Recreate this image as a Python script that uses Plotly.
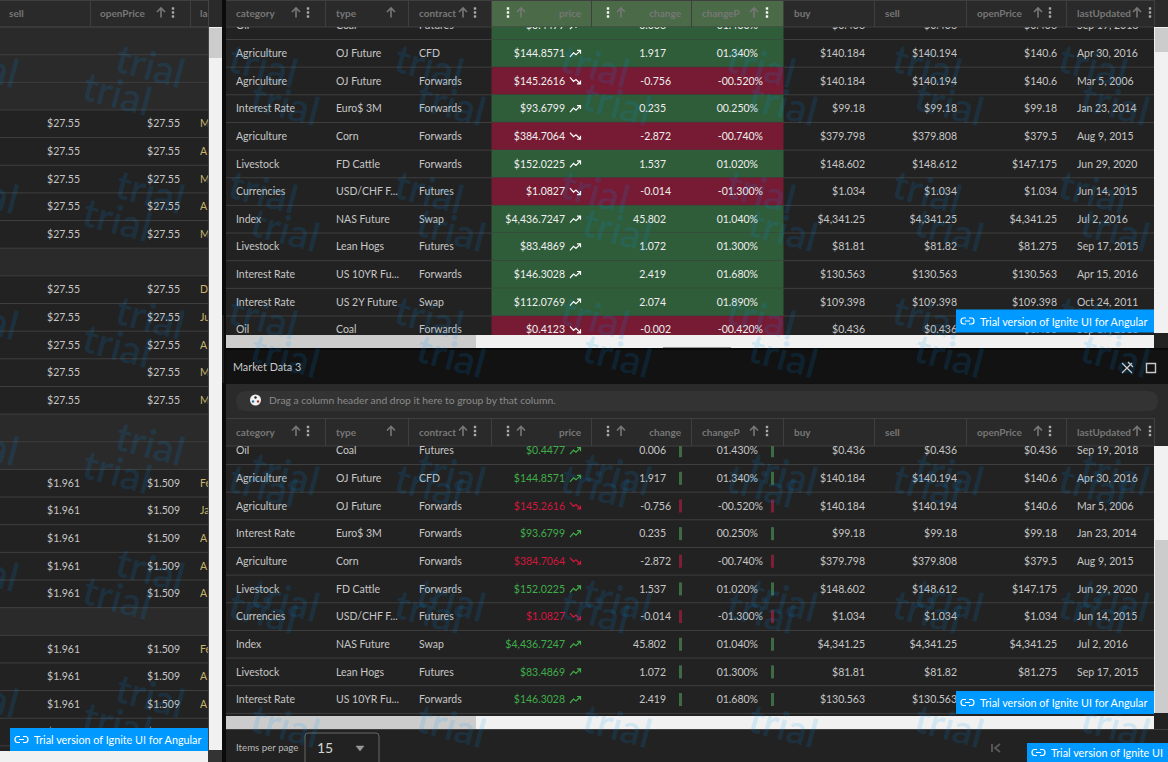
import plotly.graph_objects as go

# left grid, visible part only ("" = group row)
left_sell = ["", "", ""] + ["$27.55"] * 5 + [""] + ["$27.55"] * 5 + ["", ""] + ["$1.961"] * 5 + [""] + ["$1.961"] * 4
left_open = ["", "", ""] + ["$27.55"] * 5 + [""] + ["$27.55"] * 5 + ["", ""] + ["$1.509"] * 5 + [""] + ["$1.509"] * 4
left_last = ["", "", "", "M", "A", "M", "A", "M", "", "D", "Ju", "A", "M", "M", "", "",
             "Fe", "Ja", "A", "A", "A", "", "Fe", "A", "A", "A"]

category = ["Oil", "Agriculture", "Agriculture", "Interest Rate", "Agriculture", "Livestock",
            "Currencies", "Index", "Livestock", "Interest Rate", "Interest Rate", "Oil"]
itype = ["Coal", "OJ Future", "OJ Future", "Euro$ 3M", "Corn", "FD Cattle",
         "USD/CHF F...", "NAS Future", "Lean Hogs", "US 10YR Fu...", "US 2Y Future", "Coal"]
contract = ["Futures", "CFD", "Forwards", "Forwards", "Forwards", "Forwards",
            "Futures", "Swap", "Futures", "Forwards", "Swap", "Forwards"]
price = ["$0.4477", "$144.8571", "$145.2616", "$93.6799", "$384.7064", "$152.0225",
         "$1.0827", "$4,436.7247", "$83.4869", "$146.3028", "$112.0769", "$0.4123"]
change = ["0.006", "1.917", "-0.756", "0.235", "-2.872", "1.537",
          "-0.014", "45.802", "1.072", "2.419", "2.074", "-0.002"]
change_p = ["01.430%", "01.340%", "-00.520%", "00.250%", "-00.740%", "01.020%",
            "-01.300%", "01.040%", "01.300%", "01.680%", "01.890%", "-00.420%"]
buy = ["$0.436", "$140.184", "$140.184", "$99.18", "$379.798", "$148.602",
       "$1.034", "$4,341.25", "$81.81", "$130.563", "$109.398", "$0.436"]
sell = ["$0.436", "$140.194", "$140.194", "$99.18", "$379.808", "$148.612",
        "$1.034", "$4,341.25", "$81.82", "$130.563", "$109.398", "$0.436"]
open_price = ["$0.436", "$140.6", "$140.6", "$99.18", "$379.5", "$147.175",
              "$1.034", "$4,341.25", "$81.275", "$130.563", "$109.398", "$0.436"]
last_updated = ["Sep 19, 2018", "Apr 30, 2016", "Mar 5, 2006", "Jan 23, 2014", "Aug 9, 2015", "Jun 29, 2020",
                "Jun 14, 2015", "Jul 2, 2016", "Sep 17, 2015", "Apr 15, 2016", "Oct 24, 2011", "Sep 19, 2018"]

FONT = "Lato"
CELL_SIZE = 10.5
HEAD_SIZE = 10
TEXT = "#c6c6c6"
HEAD = "#777777"
LINE = "#3f3f3f"
BG = "#222222"
BG2 = "#2a2a2a"
GREEN_BG, RED_BG = "#2f5c39", "#761b33"
GREEN, RED = "#3fae49", "#d3163c"
PITCH = 27.65
W, H = 1168, 762

fig = go.Figure()
shapes = []
notes = []


def rect(x0, y0, x1, y1, color, layer="below", xref="x", yref="y"):
    shapes.append(dict(type="rect", x0=x0, y0=y0, x1=x1, y1=y1, xref=xref, yref=yref,
                       fillcolor=color, line_width=0, layer=layer))


def hline(y, x0, x1, color=LINE, xref="x", yref="y"):
    shapes.append(dict(type="line", x0=x0, x1=x1, y0=y, y1=y, xref=xref, yref=yref,
                       line=dict(color=color, width=1), layer="below"))


def vline(x, y0, y1, color=LINE):
    shapes.append(dict(type="line", x0=x, x1=x, y0=y0, y1=y1, xref="x", yref="y",
                       line=dict(color=color, width=1), layer="below"))


def path(d, color, width=1.3, fill=None, layer="above", xref="x", yref="y"):
    shapes.append(dict(type="path", path=d, xref=xref, yref=yref, layer=layer,
                       fillcolor=fill if fill else "rgba(0,0,0,0)",
                       line=dict(color=color, width=width)))


def texts(x, y, labels, colors=TEXT, pos="middle right", size=CELL_SIZE, ax="", weight=None, family=FONT):
    fig.add_trace(go.Scatter(x=x, y=[v + 1 for v in y], text=labels, mode="text", textposition=pos,
                             textfont=dict(family=family, size=size, color=colors, weight=weight),
                             xaxis="x" + ax, yaxis="y" + ax, hoverinfo="skip", showlegend=False))


def badge(x0, y0, x1, y1, label):
    rect(x0, y0, x1, y1, "#0099ff", layer="above")
    yc = (y0 + y1) / 2
    ix = x0 + 5
    path(f"M{ix+5},{yc-3} L{ix+2.5},{yc-3} Q{ix},{yc-3} {ix},{yc} Q{ix},{yc+3} {ix+2.5},{yc+3} L{ix+5},{yc+3} "
         f"M{ix+8},{yc-3} L{ix+10.5},{yc-3} Q{ix+13},{yc-3} {ix+13},{yc} Q{ix+13},{yc+3} {ix+10.5},{yc+3} L{ix+8},{yc+3} "
         f"M{ix+4},{yc} L{ix+9},{yc}", "#ffffff", 1.2)
    notes.append(dict(x=x0 + 22, y=yc, text=label, xanchor="left", yanchor="middle", showarrow=False,
                      font=dict(family=FONT, size=10.8, color="#ffffff")))


def trend(x, y, up, color, ax):
    s = -1 if up else 1
    path(f"M{x},{y-s*3.5} L{x+3.5},{y+s*0.5} L{x+6},{y-s*1.5} L{x+10.5},{y+s*3} "
         f"M{x+7},{y+s*3} L{x+10.5},{y+s*3} L{x+10.5},{y-s*0.5}", color, 1.2, xref="x" + ax, yref="y" + ax)


def sort_arrow(x, y):
    path(f"M{x},{y+5} L{x},{y-4.5} M{x-4},{y-0.5} L{x},{y-4.5} L{x+4},{y-0.5}", "#777777", 1.6, layer="below")


def menu_dots(x, y, color):
    for d in (-4, 0, 4):
        rect(x - 1.2, y + d - 1.2, x + 1.2, y + d + 1.2, color)


# page blocks
rect(0, 0, 208, 27, BG2)
rect(0, 27, 208, 751, BG)
rect(208, 0, 222, 27, BG2)
rect(209, 28, 222, 58, "#cccccc")
rect(208, 750, 222, 762, "#333333")
rect(222, 0, 226, H, "#0b0b0b")
vline(223, 315, 383, "#333333")
vline(208.5, 0, 751, "#444444")

# left grid
for i, v in enumerate(left_sell):
    if v == "":
        rect(0, 27 + PITCH * i, 208, 27 + PITCH * (i + 1), BG2)
for i in range(len(left_sell) + 1):
    hline(27 + PITCH * i, 0, 208)
hline(0.5, 0, 208)
hline(27, 0, 208)
vline(90.5, 0, 27)
vline(190.5, 0, 27)
left_y = [27 + PITCH * (i + 0.5) for i in range(len(left_sell))]
texts([80] * len(left_y), left_y, left_sell, pos="middle left", ax="2")
texts([180] * len(left_y), left_y, left_open, pos="middle left", ax="2")
texts([200] * len(left_y), left_y, left_last, colors="#c9b56a", ax="2")

# top grid blocks
rect(226, 0, 1154, 27, BG2)
rect(226, 27, 1154, 335, BG)
rect(491.5, 0, 783.5, 27, "#4a6a48")
rect(1154, 0, W, 27, BG2)
rect(1155, 28, W, 52, "#cccccc")
rect(1154, 333, W, 349, BG)
rect(226, 335, 476, 348, "#cccccc")
rect(663, 347.5, 731, 350, "#444444")
rect(226, 348, W, 350, "#080808")

# bottom grid blocks
rect(226, 350, W, 384, "#121212")
rect(226, 384, W, 446, BG2)
shapes.append(dict(type="path", path="M246,391 L1148,391 Q1158,391 1158,401 Q1158,411 1148,411 L246,411 Q236,411 236,401 Q236,391 246,391 Z",
                   xref="x", yref="y", fillcolor="#333333", line_width=0, layer="below"))
rect(226, 446, 1154, 716, BG)
rect(1155, 540, W, 713, "#cccccc")
rect(1154, 713, W, 729, BG)
rect(226, 716, 476, 729, "#cccccc")
rect(226, 729, W, H, BG)
hline(729.5, 226, W)

heads = [("category", 236, 296, 308), ("type", 336, 391, None), ("contract", 419, 463, 475),
         ("price", 581, 521, 508), ("change", 681, 621, 608), ("changeP", 702, 754, 767),
         ("buy", 794, None, None), ("sell", 885, None, None), ("openPrice", 977, 1038, 1050),
         ("lastUpdated", 1077, 1137, 1150)]
seps = [325.5, 408.5, 491.5, 591.5, 691.5, 783.5, 874.5, 966.5, 1066.5, 1154.5]
right_heads = ["price", "change"]


def header(y0, y1, hi):
    yc = (y0 + y1) / 2
    hline(y0 + 0.5, 226, 1154)
    hline(y1, 226, 1154)
    for x in seps:
        vline(x, y0, y1)
    for name, x, ax_, dots in heads:
        texts([x], [yc], [name], colors=HEAD, pos="middle left" if name in right_heads else "middle right",
              size=HEAD_SIZE, weight=700)
        if ax_:
            sort_arrow(ax_, yc - 1)
        if dots:
            menu_dots(dots, yc - 1, "#ffffff" if hi and name in ("price", "change", "changeP") else "#aaaaaa")


header(0, 27, True)
header(418, 446, False)
texts([100], [13.5], ["openPrice"], colors=HEAD, size=HEAD_SIZE, weight=700)
texts([9], [13.5], ["sell"], colors=HEAD, size=HEAD_SIZE, weight=700)
sort_arrow(161, 12.5)
menu_dots(173, 12.5, "#aaaaaa")
texts([200], [13.5], ["la"], colors=HEAD, size=HEAD_SIZE, weight=700)
texts([233], [367.5], ["Market Data 3"], colors="#c8c8c8", size=10.8)
texts([269], [400], ["Drag a column header and drop it here to group by that column."], colors="#8a8a8a", size=10.3)
texts([236], [747.5], ["Items per page"], colors="#bbbbbb", size=9.7)
texts([317], [748.5], ["15"], colors="#d5d5d5", size=14)


def grid(rows, first_line, ax, colored):
    n = len(rows)
    ys = [first_line + PITCH * (i - 0.5) for i in range(n)]
    ref = dict(xref="x" + ax, yref="y" + ax)
    for i in rows:
        up = not change[i].startswith("-")
        y = ys[i]
        if colored:
            rect(491.5, y - PITCH / 2, 783.5, y + PITCH / 2, GREEN_BG if up else RED_BG, **ref)
        else:
            rect(679, y - 6.5, 682, y + 6.5, "#3c6b44" if up else "#7d1f36", **ref)
            rect(771, y - 6.5, 774, y + 6.5, "#3c6b44" if up else "#7d1f36", **ref)
        trend(570, y, up, "#ffffff" if colored else (GREEN if up else RED), ax)
        hline(y + PITCH / 2, 226, 1154, **ref)
    price_c = ["#f0f0f0" if colored else (GREEN if not change[i].startswith("-") else RED) for i in rows]
    cell_c = "#eeeeee" if colored else TEXT
    sign = [change[i].startswith("-") for i in rows]
    texts([236] * n, ys, category[:n], ax=ax)
    texts([336] * n, ys, itype[:n], ax=ax)
    texts([419] * n, ys, contract[:n], ax=ax)
    texts([565] * n, ys, price[:n], colors=price_c, pos="middle left", ax=ax)
    texts([671 if s else 666 for s in sign], ys, change[:n], colors=cell_c, pos="middle left", ax=ax)
    texts([763 if s else 758 for s in sign], ys, change_p[:n], colors=cell_c, pos="middle left", ax=ax)
    texts([865] * n, ys, buy[:n], pos="middle left", ax=ax)
    texts([957] * n, ys, sell[:n], pos="middle left", ax=ax)
    texts([1057] * n, ys, open_price[:n], pos="middle left", ax=ax)
    texts([1077] * n, ys, last_updated[:n], ax=ax)


grid(range(12), 39.5, "3", True)
grid(range(10), 464.5, "4", False)

# footer and toolbar icons
shapes.append(dict(type="path", path="M305,763 L305,736 Q305,733 308,733 L376,733 Q379,733 379,736 L379,763",
                   xref="x", yref="y", line=dict(color="#666666", width=1), layer="below"))
path("M356,746 L364,746 L360,751 Z", "#999999", 0.5, fill="#999999")
path("M992,744 L992,752 M1000,744 L995,748 L1000,752", "#5a5a5a", 1.8)
shapes.append(dict(type="rect", x0=1146.5, x1=1155.5, y0=363.5, y1=372.5, xref="x", yref="y",
                   line=dict(color="#c8c8c8", width=1.4), layer="above"))
path("M1122,363 L1132,373 M1132,363 L1126,369 M1122,373 L1126,369 M1128,362 L1133,367", "#d0d0d0", 1.3)
shapes.append(dict(type="circle", x0=250, x1=261, y0=394.5, y1=405.5, xref="x", yref="y", fillcolor="#f2f2f2",
                   line_width=0, layer="above"))
for cx, cy, col in [(255.5, 397.5, "#222222"), (253, 401.5, "#1a6fb0"), (258, 401.5, "#b03020")]:
    shapes.append(dict(type="circle", x0=cx - 1.2, x1=cx + 1.2, y0=cy - 1.2, y1=cy + 1.2, xref="x", yref="y",
                       fillcolor=col, line_width=0, layer="above"))

badge(956, 309.5, 1154, 332.5, "Trial version of Ignite UI for Angular")
badge(956, 691, 1154, 714, "Trial version of Ignite UI for Angular")
badge(10, 728, 208, 751, "Trial version of Ignite UI for Angular")
badge(1027, 743, W, H, "Trial version of Ignite UI")

# watermark tiles
WM = "rgba(0,153,255,0.14)"


def trial(x, y):
    shift = 0
    if x < 0:
        shift, x = x, 0
    notes.append(dict(x=x, y=y, xshift=shift, text="trial", textangle=15, showarrow=False,
                      font=dict(family="Lato", size=40, color=WM, weight=600)))


for y in [65, 191, 317, 443, 569, 695]:
    trial(-16, y)
    trial(150, y)
for y in [93, 219, 345, 471, 597, 723]:
    trial(117, y)
for k in range(6):
    for y in [65, 191, 317]:
        trial(263 + 166 * k, y)
    for y in [103, 229, 355]:
        trial(285 + 166 * k, y)
    for y in [473, 599, 725]:
        trial(285 + 166 * k, y)
    for y in [485, 611]:
        trial(263 + 166 * k, y)


def dom(lo, hi, size):
    return [lo / size, hi / size]


def ydom(top, bot):
    return [1 - bot / H, 1 - top / H]


hidden = dict(visible=False, fixedrange=True)
fig.update_layout(
    width=W, height=H, margin=dict(l=0, r=0, t=0, b=0), showlegend=False,
    paper_bgcolor="#f1f1f1", plot_bgcolor="rgba(0,0,0,0)",
    shapes=shapes, annotations=notes,
    xaxis=dict(domain=[0, 1], range=[0, W], **hidden),
    yaxis=dict(domain=[0, 1], range=[H, 0], **hidden),
    xaxis2=dict(domain=dom(0, 208, W), range=[0, 208], anchor="y2", **hidden),
    yaxis2=dict(domain=ydom(27, 751), range=[751, 27], anchor="x2", **hidden),
    xaxis3=dict(domain=dom(226, 1154, W), range=[226, 1154], anchor="y3", **hidden),
    yaxis3=dict(domain=ydom(27, 335), range=[335, 27], anchor="x3", **hidden),
    xaxis4=dict(domain=dom(226, 1154, W), range=[226, 1154], anchor="y4", **hidden),
    yaxis4=dict(domain=ydom(446, 716), range=[716, 446], anchor="x4", **hidden),
)

fig.write_html("out.html", post_script="document.body.style.margin='0';document.body.style.overflow='hidden';",
               config=dict(displayModeBar=False))
